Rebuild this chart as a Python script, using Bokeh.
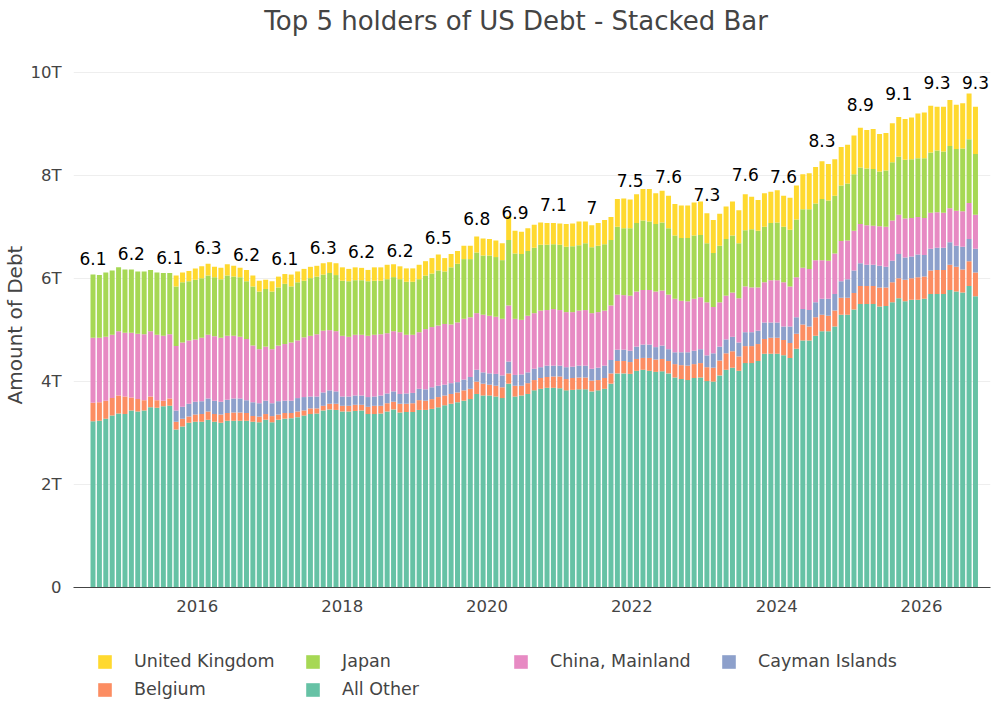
from bokeh.plotting import figure
from bokeh.layouts import column
from bokeh.models import ColumnDataSource, FixedTicker, Label, Legend, LegendItem, Range1d
from bokeh.core.properties import value
from bokeh.embed import file_html
from bokeh.resources import INLINE

# Holdings per month, trillions of US dollars (stack order: bottom -> top)
all_other = [
    3.23, 3.24, 3.28, 3.34, 3.38, 3.37, 3.44, 3.42, 3.44, 3.50, 3.49, 3.52, 3.53,
    3.07, 3.13, 3.20, 3.22, 3.22, 3.26, 3.22, 3.20, 3.24, 3.24, 3.24,
    3.24, 3.22, 3.21, 3.26, 3.21, 3.26, 3.28, 3.29, 3.31, 3.34, 3.37, 3.38, 3.44,
    3.46, 3.45, 3.42, 3.42, 3.43, 3.44, 3.37, 3.37, 3.38, 3.42, 3.46, 3.40,
    3.41, 3.41, 3.45, 3.45, 3.47, 3.50, 3.54, 3.57, 3.60, 3.63, 3.66, 3.76, 3.73,
    3.73, 3.71, 3.68, 3.96, 3.71, 3.73, 3.76, 3.83, 3.86, 3.88, 3.88, 3.87,
    3.83, 3.84, 3.85, 3.85, 3.81, 3.83, 3.86, 3.96, 4.16, 4.16, 4.15, 4.21, 4.23,
    4.21, 4.19, 4.20, 4.16, 4.08, 4.05, 4.03, 4.07, 4.08, 4.01,
    4.00, 4.12, 4.23, 4.27, 4.21, 4.36, 4.36, 4.40, 4.54, 4.54, 4.54, 4.51, 4.46,
    4.64, 4.80, 4.80, 4.89, 4.98, 4.98, 5.07,
    5.30, 5.30, 5.40, 5.51, 5.51, 5.51, 5.46, 5.47, 5.54, 5.62, 5.56, 5.59, 5.59,
    5.61, 5.70, 5.70, 5.70, 5.78, 5.75, 5.73, 5.86, 5.66,
]
belgium = [
    0.36, 0.36, 0.35, 0.34, 0.35, 0.34, 0.25, 0.24, 0.20, 0.21, 0.15, 0.11, 0.14,
    0.15, 0.15, 0.12, 0.14, 0.15, 0.16, 0.15, 0.16, 0.15, 0.16, 0.16,
    0.15, 0.11, 0.11, 0.11, 0.12, 0.10, 0.11, 0.10, 0.11, 0.10, 0.11, 0.10, 0.09,
    0.11, 0.12, 0.11, 0.11, 0.12, 0.11, 0.14, 0.16, 0.15, 0.16, 0.15, 0.17,
    0.16, 0.17, 0.19, 0.18, 0.19, 0.20, 0.19, 0.19, 0.19, 0.20, 0.20, 0.24, 0.23,
    0.21, 0.21, 0.21, 0.20, 0.21, 0.19, 0.21, 0.20, 0.21, 0.21, 0.22, 0.23,
    0.22, 0.23, 0.23, 0.23, 0.21, 0.20, 0.21, 0.20, 0.24, 0.24, 0.23, 0.23, 0.23,
    0.25, 0.24, 0.24, 0.24, 0.26, 0.27, 0.28, 0.27, 0.28, 0.27,
    0.27, 0.29, 0.32, 0.32, 0.28, 0.33, 0.33, 0.33, 0.29, 0.31, 0.31, 0.30, 0.29,
    0.29, 0.31, 0.27, 0.36, 0.32, 0.30, 0.31,
    0.33, 0.33, 0.32, 0.35, 0.35, 0.35, 0.37, 0.36, 0.39, 0.39, 0.42, 0.42, 0.44,
    0.43, 0.46, 0.47, 0.47, 0.49, 0.48, 0.45, 0.48, 0.46,
]
cayman = [
    0, 0, 0, 0, 0, 0, 0, 0, 0, 0, 0, 0, 0,
    0.22, 0.23, 0.25, 0.25, 0.25, 0.25, 0.26, 0.25, 0.26, 0.27, 0.27,
    0.25, 0.27, 0.26, 0.26, 0.25, 0.26, 0.24, 0.24, 0.26, 0.26, 0.23, 0.23, 0.26,
    0.26, 0.24, 0.18, 0.18, 0.18, 0.18, 0.19, 0.18, 0.20, 0.19, 0.20, 0.19,
    0.20, 0.20, 0.22, 0.22, 0.23, 0.22, 0.21, 0.21, 0.20, 0.21, 0.23, 0.23, 0.22,
    0.22, 0.23, 0.23, 0.23, 0.21, 0.22, 0.21, 0.22, 0.21, 0.22, 0.21, 0.21,
    0.23, 0.22, 0.23, 0.23, 0.23, 0.24, 0.24, 0.26, 0.22, 0.22, 0.22, 0.24, 0.26,
    0.26, 0.24, 0.26, 0.23, 0.23, 0.25, 0.26, 0.26, 0.27, 0.23,
    0.28, 0.27, 0.27, 0.28, 0.27, 0.27, 0.27, 0.26, 0.32, 0.30, 0.30, 0.26, 0.32,
    0.32, 0.30, 0.32, 0.29, 0.31, 0.33, 0.32,
    0.32, 0.36, 0.44, 0.44, 0.41, 0.41, 0.42, 0.40, 0.42, 0.47, 0.43, 0.42, 0.44,
    0.42, 0.42, 0.43, 0.43, 0.44, 0.41, 0.44, 0.43, 0.46,
]
china = [
    1.26, 1.25, 1.24, 1.23, 1.25, 1.24, 1.26, 1.27, 1.28, 1.27, 1.27, 1.26, 1.25,
    1.25, 1.25, 1.23, 1.21, 1.23, 1.24, 1.25, 1.24, 1.24, 1.22, 1.20,
    1.19, 1.10, 1.05, 1.05, 1.05, 1.08, 1.10, 1.13, 1.12, 1.16, 1.18, 1.21, 1.20,
    1.17, 1.17, 1.18, 1.16, 1.18, 1.18, 1.19, 1.20, 1.19, 1.17, 1.17, 1.20,
    1.14, 1.13, 1.10, 1.17, 1.17, 1.17, 1.18, 1.14, 1.16, 1.18, 1.16, 1.10, 1.12,
    1.12, 1.11, 1.10, 1.09, 1.09, 1.06, 1.10, 1.08, 1.10, 1.08, 1.10, 1.08,
    1.07, 1.06, 1.07, 1.08, 1.08, 1.08, 1.07, 1.06, 1.07, 1.06, 1.07, 1.07, 1.06,
    1.06, 1.08, 1.07, 1.06, 1.04, 1.00, 0.99, 1.01, 1.01, 1.03,
    0.90, 0.86, 0.85, 0.86, 0.86, 0.89, 0.87, 0.84, 0.78, 0.82, 0.82, 0.86, 0.78,
    0.78, 0.80, 0.80, 0.82, 0.75, 0.74, 0.79,
    0.78, 0.75, 0.77, 0.76, 0.77, 0.76, 0.77, 0.78, 0.78, 0.76, 0.76, 0.75, 0.73,
    0.72, 0.70, 0.69, 0.68, 0.66, 0.68, 0.69, 0.70, 0.66,
]
japan = [
    1.23, 1.22, 1.25, 1.25, 1.24, 1.23, 1.23, 1.21, 1.22, 1.19, 1.21, 1.22, 1.19,
    1.16, 1.17, 1.15, 1.16, 1.16, 1.15, 1.15, 1.14, 1.17, 1.15, 1.16,
    1.12, 1.15, 1.12, 1.12, 1.12, 1.13, 1.17, 1.09, 1.13, 1.10, 1.12, 1.12, 1.09,
    1.11, 1.09, 1.07, 1.08, 1.06, 1.06, 1.06, 1.05, 1.04, 1.05, 1.05, 1.03,
    1.03, 1.03, 1.03, 1.04, 1.04, 1.07, 1.02, 1.11, 1.14, 1.16, 1.13, 1.18, 1.15,
    1.17, 1.16, 1.14, 1.27, 1.27, 1.28, 1.26, 1.27, 1.28, 1.27, 1.26, 1.27,
    1.27, 1.28, 1.27, 1.30, 1.28, 1.29, 1.29, 1.27, 1.32, 1.30, 1.31, 1.33, 1.35,
    1.33, 1.31, 1.32, 1.29, 1.23, 1.22, 1.23, 1.23, 1.21, 1.15,
    1.05, 1.10, 1.10, 1.11, 1.07, 1.09, 1.13, 1.10, 1.08, 1.11, 1.12, 1.08, 1.10,
    1.12, 1.14, 1.16, 1.10, 1.19, 1.17, 1.12,
    1.08, 1.11, 1.10, 1.10, 1.10, 1.10, 1.06, 1.09, 1.13, 1.13, 1.14, 1.14, 1.14,
    1.16, 1.17, 1.20, 1.19, 1.21, 1.20, 1.22, 1.24, 1.18,
]
united_kingdom = [
    0, 0, 0, 0, 0, 0, 0, 0, 0, 0, 0, 0, 0,
    0.21, 0.19, 0.20, 0.22, 0.23, 0.23, 0.20, 0.22, 0.22, 0.21, 0.18,
    0.22, 0.21, 0.21, 0.18, 0.20, 0.21, 0.19, 0.23, 0.21, 0.23, 0.22, 0.21, 0.22,
    0.21, 0.23, 0.26, 0.24, 0.25, 0.24, 0.22, 0.26, 0.26, 0.28, 0.25, 0.25,
    0.26, 0.26, 0.28, 0.28, 0.30, 0.31, 0.26, 0.26, 0.25, 0.26, 0.26, 0.31, 0.33,
    0.32, 0.32, 0.33, 0.47, 0.44, 0.43, 0.44, 0.45, 0.43, 0.42, 0.41, 0.41,
    0.44, 0.44, 0.46, 0.42, 0.43, 0.44, 0.47, 0.45, 0.54, 0.58, 0.56, 0.56, 0.61,
    0.63, 0.60, 0.62, 0.63, 0.61, 0.63, 0.63, 0.64, 0.65, 0.58,
    0.64, 0.62, 0.63, 0.66, 0.64, 0.70, 0.63, 0.60, 0.65, 0.61, 0.63, 0.60, 0.62,
    0.66, 0.68, 0.70, 0.71, 0.73, 0.71, 0.71,
    0.75, 0.75, 0.75, 0.77, 0.75, 0.78, 0.73, 0.73, 0.76, 0.77, 0.79, 0.81, 0.87,
    0.89, 0.91, 0.85, 0.87, 0.89, 0.86, 0.88, 0.89, 0.92,
]

series = ["All Other", "Belgium", "Cayman Islands", "China, Mainland", "Japan", "United Kingdom"]
colors = ["#66c2a5", "#fc8d62", "#8da0cb", "#e78ac3", "#a6d854", "#ffd92f"]
legend_rows = [["United Kingdom", "Japan", "China, Mainland", "Cayman Islands"],
               ["Belgium", "All Other"]]

year_ticks = [2016, 2018, 2020, 2022, 2024, 2026]
y_ticks = [0, 2, 4, 6, 8, 10]
y_tick_labels = ["0", "2T", "4T", "6T", "8T", "10T"]
TITLE = "Top 5 holders of US Debt - Stacked Bar"

# placement of the calendar axis relative to the bar index
FIRST_BAR_YEAR = 2014.559
BARS_PER_YEAR = 11.325
LABEL_EVERY = 6

FONT = "DejaVu Sans"
GREY = "#444444"
WIDTH = 1000
FRAME_W = 918  # plot area width: WIDTH minus left (72) and right (10) borders


def strip(height):
    """An axis-less figure used for the title and legend rows."""
    f = figure(
        width=WIDTH, height=height, output_backend="svg", toolbar_location=None,
        x_range=Range1d(0, FRAME_W), y_range=Range1d(0, height),
        x_axis_type=None, y_axis_type=None,
        min_border=0, min_border_left=0, min_border_right=0, min_border_top=0, min_border_bottom=0,
    )
    f.outline_line_color = None
    f.xgrid.visible = False
    f.ygrid.visible = False
    return f


n = len(all_other)
idx = list(range(n))
columns = [all_other, belgium, cayman, china, japan, united_kingdom]
data = {"x": idx}
for name, vals in zip(series, columns):
    data[name] = vals
source = ColumnDataSource(data)

totals = [sum(col[i] for col in columns) for i in idx]


def fmt(v):
    s = "%.1f" % round(v, 1)
    return s[:-2] if s.endswith(".0") else s


lab_x = idx[::LABEL_EVERY]
lab_y = [totals[i] * 1.05 for i in lab_x]
lab_t = [fmt(totals[i]) for i in lab_x]
labels = ColumnDataSource(dict(x=lab_x, y=lab_y, t=lab_t))

# ---- title row
TITLE_H = 40
head = strip(TITLE_H)
head.add_layout(Label(
    x=191, y=TITLE_H / 2, text=TITLE, text_align="left", text_baseline="middle",
    text_font=FONT, text_font_size="26px", text_color=GREY,
))

# ---- stacked bars
p = figure(
    width=WIDTH, height=590,
    output_backend="svg", toolbar_location=None,
    x_range=Range1d(-3.05, 140.35), y_range=Range1d(0, 10.2),
    min_border_left=72, min_border_right=10, min_border_top=22, min_border_bottom=43,
)
p.outline_line_color = None
p.background_fill_color = "white"

p.vbar_stack(series, x="x", width=0.78, color=colors, line_color=None, source=source)

p.text(x="x", y="y", text="t", source=labels, text_align="center", text_baseline="middle",
       text_font=value(FONT), text_font_size="17px", text_color="black")

# x axis: calendar years
year_pos = [round((yr - FIRST_BAR_YEAR) * BARS_PER_YEAR, 4) for yr in year_ticks]
p.xaxis.ticker = FixedTicker(ticks=year_pos)
p.xaxis.major_label_overrides = {pos: str(yr) for pos, yr in zip(year_pos, year_ticks)}
p.xaxis.major_tick_line_color = None
p.xaxis.minor_tick_line_color = None
p.xaxis.axis_line_color = GREY
p.xaxis.major_label_text_font = FONT
p.xaxis.major_label_text_font_size = "16.5px"
p.xaxis.major_label_text_color = GREY
p.xaxis.major_label_standoff = 6

# y axis
p.yaxis.ticker = FixedTicker(ticks=y_ticks)
p.yaxis.major_label_overrides = dict(zip(y_ticks, y_tick_labels))
p.yaxis.axis_line_color = None
p.yaxis.major_tick_line_color = None
p.yaxis.minor_tick_line_color = None
p.yaxis.major_label_text_font = FONT
p.yaxis.major_label_text_font_size = "16.5px"
p.yaxis.major_label_text_color = GREY
p.yaxis.major_label_standoff = 6
p.yaxis.axis_label = "Amount of Debt"
p.yaxis.axis_label_text_font = FONT
p.yaxis.axis_label_text_font_size = "20px"
p.yaxis.axis_label_text_font_style = "normal"
p.yaxis.axis_label_text_color = GREY
p.yaxis.axis_label_standoff = 0

p.xgrid.visible = False
p.ygrid.ticker = FixedTicker(ticks=y_ticks[1:])
p.ygrid.grid_line_color = "#eeeeee"

# ---- legend rows; swatches share the chart's data but stay hidden
LEG_H = 75
lg = strip(LEG_H)
swatches = lg.vbar_stack(series, x="x", width=0.78, color=colors, line_color=None, source=source)
for r in swatches:
    r.visible = False
swatch = dict(zip(series, swatches))

for row_i, row in enumerate(legend_rows):
    leg = Legend(
        items=[LegendItem(label=name, renderers=[swatch[name]]) for name in row],
        orientation="horizontal",
        glyph_width=17, glyph_height=17, label_standoff=21, label_width=170,
        label_height=20, spacing=0, padding=0, margin=0,
        label_text_font=FONT, label_text_font_size="17.5px", label_text_color=GREY,
        border_line_color=None, background_fill_alpha=0,
        inactive_fill_alpha=0,
        location=(23, 34 - 28 * row_i),
    )
    lg.add_layout(leg, "center")

open("out.html", "w").write(file_html(column(head, p, lg, spacing=0), INLINE))
